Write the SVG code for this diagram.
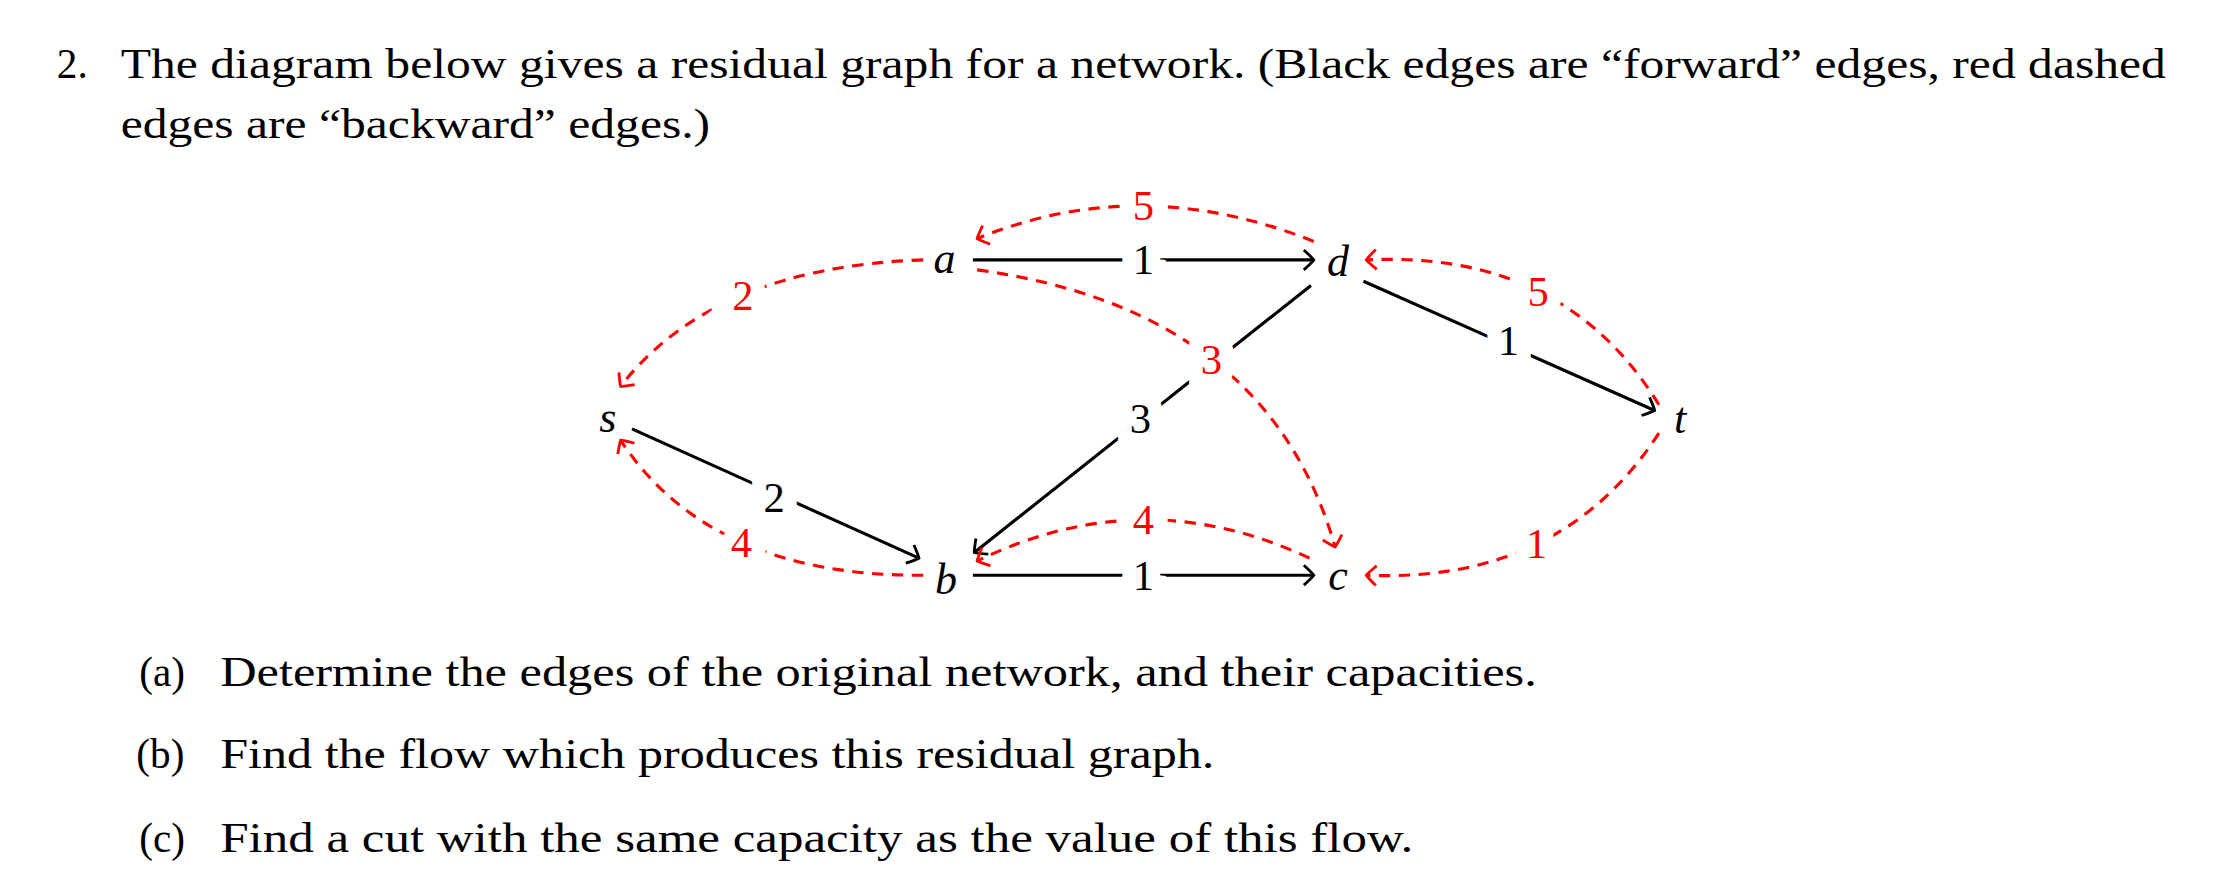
<svg xmlns="http://www.w3.org/2000/svg" width="2227" height="875" viewBox="0 0 2227 875">
<style>
.t{font-family:"Liberation Serif",serif;font-size:29px;fill:#000}
.n{font-family:"Liberation Serif",serif;font-style:italic;font-size:31px;fill:#000;text-anchor:middle;dominant-baseline:central}
.l{font-family:"Liberation Serif",serif;font-size:30px;text-anchor:middle;dominant-baseline:central;stroke:#fff;stroke-width:20px;paint-order:stroke}
.k{fill:#000}.r{fill:#f00}
.f{fill:none;stroke:#000;stroke-width:2.2;marker-end:url(#ab)}
.b{fill:none;stroke:#f00;stroke-width:2.2;stroke-dasharray:8 6;marker-end:url(#ar)}
</style>
<defs>
<marker id="ab" viewBox="-10 -9 12 18" markerWidth="12" markerHeight="18" refX="0" refY="0" orient="auto" markerUnits="userSpaceOnUse"><path d="M-7,-7 Q-1,-1.5 0,0 Q-1,1.5 -7,7" fill="none" stroke="#000" stroke-width="2"/></marker>
<marker id="ar" viewBox="-10 -9 12 18" markerWidth="12" markerHeight="18" refX="0" refY="0" orient="auto" markerUnits="userSpaceOnUse"><path d="M-7,-7 Q-1,-1.5 0,0 Q-1,1.5 -7,7" fill="none" stroke="#f00" stroke-width="2"/></marker>
</defs>
<rect width="2227" height="875" fill="#fff"/>
<g transform="scale(1.4203)">
<g id="text">
<text class="t" x="40" y="55">2.</text>
<text class="t" x="85" y="55" textLength="1440" lengthAdjust="spacingAndGlyphs">The diagram below gives a residual graph for a network. (Black edges are “forward” edges, red dashed</text>
<text class="t" x="85" y="97" textLength="415" lengthAdjust="spacingAndGlyphs">edges are “backward” edges.)</text>
<text class="t" x="98" y="483">(a)</text>
<text class="t" x="155" y="483" textLength="927" lengthAdjust="spacingAndGlyphs">Determine the edges of the original network, and their capacities.</text>
<text class="t" x="96" y="541">(b)</text>
<text class="t" x="155" y="541" textLength="700" lengthAdjust="spacingAndGlyphs">Find the flow which produces this residual graph.</text>
<text class="t" x="98" y="600">(c)</text>
<text class="t" x="155" y="600" textLength="840" lengthAdjust="spacingAndGlyphs">Find a cut with the same capacity as the value of this flow.</text>
</g>
<g id="connectors">
<path class="f" d="M685,183 L925,183"/>
<path class="f" d="M923,201 L686,389"/>
<path class="f" d="M445,302 L647,393"/>
<path class="f" d="M960,198 L1165,289"/>
<path class="f" d="M685,405 L925,405"/>
<path class="b" d="M925,170 Q803,121 688,168"/>
<path class="b" d="M650,183 Q502,188 437,272"/>
<path class="b" d="M688,190 Q892,218 940,385"/>
<path class="b" d="M1168,285 Q1101,176 962,183"/>
<path class="b" d="M650,405 Q500,406 437,310"/>
<path class="b" d="M922,393 Q805,338 688,395"/>
<path class="b" d="M1168,305 Q1099,411 962,405"/>
</g>
<g id="labels">
<text class="l k" x="803" y="295">3</text>
<text class="l r" x="853" y="253">3</text>
<text class="l r" x="805" y="145">5</text>
<text class="l k" x="805" y="183">1</text>
<text class="l r" x="523" y="208">2</text>
<text class="l r" x="1083" y="205">5</text>
<text class="l k" x="1062" y="240">1</text>
<text class="l k" x="545" y="350">2</text>
<text class="l r" x="522" y="382">4</text>
<text class="l r" x="805" y="366">4</text>
<text class="l k" x="805" y="405">1</text>
<text class="l r" x="1082" y="383">1</text>
</g>
<g id="node-a"><text class="n" x="665" y="182">a</text></g>
<g id="node-d"><text class="n" x="942" y="184">d</text></g>
<g id="node-s"><text class="n" x="428" y="294">s</text></g>
<g id="node-t"><text class="n" x="1183" y="295">t</text></g>
<g id="node-b"><text class="n" x="666" y="408">b</text></g>
<g id="node-c"><text class="n" x="942" y="405">c</text></g>
</g>
</svg>
